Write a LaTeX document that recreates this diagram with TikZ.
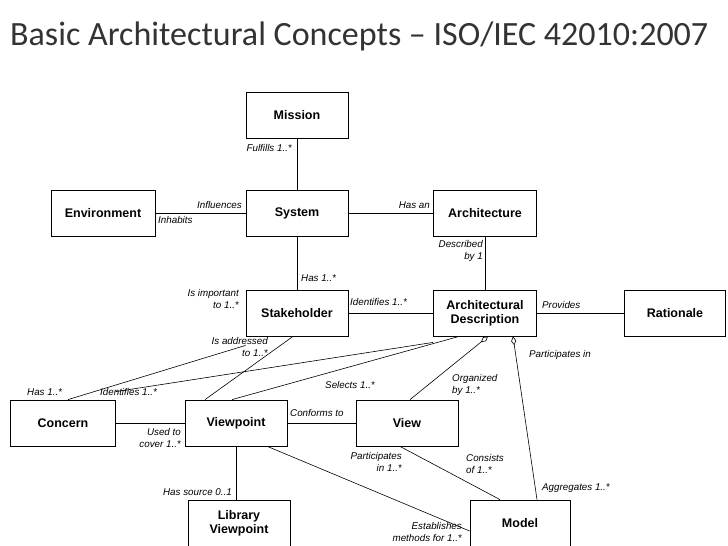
\documentclass[tikz,border=0pt]{standalone}
\usepackage{fontspec}
\setmainfont{Liberation Sans}
\newfontfamily\titlefont{Carlito}
\usetikzlibrary{arrows.meta}
\begin{document}
\begin{tikzpicture}[x=1pt,y=-1pt,
  box/.style={draw,line width=0.8pt,minimum width=102pt,minimum height=46pt,inner sep=1pt,font=\bfseries\fontsize{12.5}{14}\selectfont,align=center},
  lab/.style={font=\itshape\fontsize{9.8}{11.5}\selectfont,inner sep=0pt,align=left},
  labr/.style={lab,align=right},
  ln/.style={line width=0.6pt},
  agg/.style={ln,{Diamond[open,length=9pt,width=5pt]}-}]
\useasboundingbox (0,0) rectangle (728,546);
\fill[white] (0,0) rectangle (728,546);
\node[anchor=base west,inner sep=0pt,text=black!80,font=\titlefont\fontsize{34}{36}\selectfont] (title) at (10,45) {Basic Architectural Concepts – ISO/IEC 42010:2007};
\node[box] (mission) at (297,115) {Mission};
\node[box] (system) at (297,213) {System};
\node[box,minimum width=104pt] (env) at (103,213) {Environment};
\node[box,minimum width=103pt] (arch) at (485,213) {Architecture};
\node[box] (stake) at (297,313) {Stakeholder};
\node[box,minimum width=103pt] (ad) at (485,313) {Architectural\\Description};
\node[box,minimum width=101pt] (rat) at (675,313) {Rationale};
\node[box,minimum width=105pt] (concern) at (63,423) {Concern};
\node[box] (vp) at (236,423) {Viewpoint};
\node[box] (view) at (407,423) {View};
\node[box] (lib) at (239,523) {Library\\Viewpoint};
\node[box,minimum width=100pt] (model) at (520,523) {Model};
% connectors
\draw[ln] (mission) -- (system);
\draw[ln] (env) -- (system);
\draw[ln] (system) -- (arch);
\draw[ln] (system) -- (stake);
\draw[ln] (arch) -- (ad);
\draw[ln] (stake) -- (ad);
\draw[ln] (ad) -- (rat);
\draw[ln] ([yshift=-9pt]stake.south west) -- ([xshift=5pt]concern.north);
\draw[ln] ([xshift=-4pt]stake.south) -- ([xshift=-31pt]vp.north);
\draw[ln] ([yshift=-6pt]ad.south west) -- ([yshift=8pt]concern.north east);
\draw[ln] ([xshift=26pt]ad.south west) -- ([xshift=-4pt]vp.north);
\draw[agg] ([xshift=3pt]ad.south) -- ([xshift=3pt]view.north);
\draw[agg] ([xshift=28pt]ad.south) -- ([xshift=17pt]model.north);
\draw[ln] (concern) -- (vp);
\draw[ln] (vp) -- (view);
\draw[ln] (vp.south) -- (lib.north -| vp.south);
\draw[ln] ([xshift=-20pt]vp.south east) -- ([yshift=-8pt]model.west);
\draw[ln] ([xshift=-7pt]view.south) -- ([xshift=-20pt]model.north);
% labels
\node[labr,anchor=east] (l1) at (292,148) {Fulfills 1..*};
\node[labr,anchor=east] (l2) at (242,205) {Influences};
\node[lab,anchor=west] (l3) at (158,220) {Inhabits};
\node[labr,anchor=east] (l4) at (430,205) {Has an};
\node[labr,anchor=east] (l5) at (483,251) {Described\\by 1};
\node[lab,anchor=west] (l6) at (301,278) {Has 1..*};
\node[labr,anchor=east] (l7) at (239,299) {Is important\\to 1..*};
\node[lab,anchor=west] (l8) at (350,302) {Identifies 1..*};
\node[lab,anchor=west] (l9) at (542,305) {Provides};
\node[labr,anchor=east] (l10) at (268,347) {Is addressed\\to 1..*};
\node[lab,anchor=west] (l11) at (529,355) {Participates in};
\node[lab,anchor=west] (l12) at (452,385) {Organized\\by 1..*};
\node[labr,anchor=east] (l13) at (375,385) {Selects 1..*};
\node[lab,anchor=west] (l14) at (27,392) {Has 1..*};
\node[lab,anchor=west] (l15) at (100,392) {Identifies 1..*};
\node[lab,anchor=west] (l16) at (290,413) {Conforms to};
\node[labr,anchor=east] (l17) at (181,438) {Used to\\cover 1..*};
\node[labr,anchor=east] (l18) at (402,462) {Participates\\in 1..*};
\node[lab,anchor=west] (l19) at (466,464) {Consists\\of 1..*};
\node[labr,anchor=east] (l20) at (232,492) {Has source 0..1};
\node[lab,anchor=west] (l21) at (542,488) {Aggregates 1..*};
\node[labr,anchor=east] (l22) at (462,532) {Establishes\\methods for 1..*};
\end{tikzpicture}
\end{document}
